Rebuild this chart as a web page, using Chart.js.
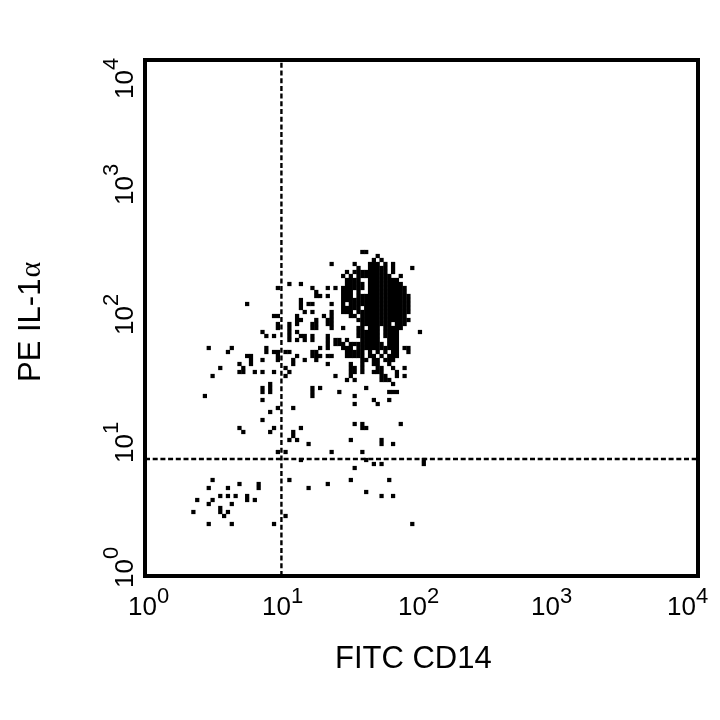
<!DOCTYPE html>
<html>
<head>
<meta charset="utf-8">
<title>FITC CD14 vs PE IL-1a</title>
<script src="https://cdn.jsdelivr.net/npm/chart.js@4"></script>
<style>
    html, body { margin: 0; padding: 0; background: #fff; }
    canvas { display: block; }
</style>
</head>
<body>
<canvas id="dotPlot" width="720" height="720"></canvas>
<script>
/* ========= DATA ========= */
var xTitle = 'FITC CD14';
var yTitle = 'PE IL-1';
var yTitleGreek = '\u03b1';
var tickBase = '10';
var tickExponents = ['0', '1', '2', '3', '4'];
var tickValues = [1, 10, 100, 1000, 10000];

// quadrant gates
var gateX = 9.7;
var gateY = 8.07;

// cytometer channels: one row per PE channel, list of FITC channels with an event
var peChannels = [13, 15, 16, 17, 18, 19, 20, 21, 22, 23, 24, 27, 28, 29, 31, 33, 34, 35, 36, 37, 38, 39, 41, 42, 43, 44, 45, 46, 47, 48, 49, 50, 51, 52, 53, 54, 55, 56, 57, 58, 59, 60, 61, 62, 63, 64, 65, 66, 67, 68, 69, 70, 71, 72, 73, 74, 75, 76, 77, 78, 79, 80, 81];
var fitcByRow = [
    [16, 22, 33, 69],
    [20, 36],
    [12, 19, 21],
    [19],
    [16, 22],
    [13, 17, 26, 28],
    [19, 21, 23, 26, 61, 64],
    [57],
    [16, 21, 29, 42],
    [24, 29, 47],
    [17, 37, 53, 63],
    [54],
    [59, 61, 72],
    [40, 57, 72],
    [34, 36, 48, 56],
    [42, 61, 64],
    [37, 39, 53, 61],
    [38],
    [25, 32, 38],
    [24, 33, 40, 56, 57],
    [54, 56, 66],
    [30],
    [32],
    [34, 38],
    [54, 60],
    [30, 59, 63],
    [15, 43, 54],
    [30, 32, 43, 50, 63, 64, 65],
    [30, 32, 43, 45, 57],
    [32, 64],
    [52, 54, 61, 62, 63],
    [17, 36, 49, 53, 61, 62, 65, 67],
    [24, 25, 28, 30, 33, 37, 53, 54, 56, 59, 60, 61, 65],
    [19, 25, 36, 53, 54, 56, 60, 61, 64, 67],
    [24, 27, 38, 47, 53, 56, 59, 60, 63],
    [27, 30, 34, 38, 41, 44, 56, 57, 59, 60, 62, 63, 64],
    [26, 27, 34, 39, 43, 44, 45, 47, 48, 52, 53, 54, 55, 56, 58, 59, 61, 63, 64, 65],
    [21, 31, 33, 34, 36, 37, 43, 44, 52, 53, 54, 55, 56, 58, 60, 62, 64, 65, 68],
    [16, 22, 31, 45, 47, 51, 52, 53, 55, 56, 57, 58, 59, 60, 61, 62, 63, 64, 65, 67, 68],
    [47, 49, 50, 51, 53, 54, 55, 56, 57, 58, 59, 60, 61, 63, 64, 65],
    [37, 39, 41, 43, 47, 49, 50, 52, 56, 57, 58, 59, 60, 63, 64, 65],
    [31, 33, 37, 40, 41, 43, 47, 55, 56, 57, 58, 59, 60, 62, 63, 64, 65],
    [30, 37, 39, 55, 56, 57, 58, 59, 60, 62, 63, 64, 65, 71],
    [34, 37, 43, 44, 48, 51, 55, 56, 58, 59, 60, 62, 63, 64, 65, 66],
    [34, 37, 39, 43, 44, 47, 48, 56, 57, 58, 59, 60, 61, 62, 63, 65, 66, 67],
    [39, 40, 44, 47, 48, 55, 56, 57, 58, 59, 60, 61, 62, 63, 64, 65, 66, 67, 68],
    [33, 34, 39, 46, 48, 53, 54, 56, 57, 58, 59, 60, 61, 62, 63, 64, 65, 66, 67],
    [41, 43, 48, 51, 52, 53, 55, 56, 57, 58, 59, 60, 61, 62, 63, 64, 65, 66, 67, 68],
    [40, 51, 52, 53, 54, 55, 57, 58, 59, 60, 61, 62, 63, 64, 65, 66, 67, 68],
    [26, 40, 42, 43, 48, 51, 53, 54, 55, 56, 57, 58, 59, 60, 61, 62, 63, 64, 65, 66, 67, 68],
    [40, 51, 52, 53, 54, 55, 56, 57, 58, 59, 60, 61, 62, 63, 64, 65, 66, 67, 68],
    [44, 45, 47, 51, 52, 53, 55, 56, 57, 58, 59, 60, 61, 62, 63, 64, 65, 66, 67, 68],
    [44, 51, 52, 53, 55, 58, 59, 60, 61, 62, 63, 64, 65, 66, 67],
    [34, 43, 47, 49, 51, 52, 53, 54, 55, 56, 58, 59, 60, 61, 62, 63, 64, 65, 66, 67],
    [37, 40, 52, 53, 54, 55, 56, 58, 59, 60, 61, 62, 63, 64, 65, 66],
    [52, 53, 54, 55, 58, 59, 60, 61, 62, 63, 64, 65],
    [51, 53, 55, 56, 57, 58, 59, 60, 61, 62, 63, 66],
    [52, 54, 55, 56, 57, 58, 59, 60, 61, 62, 64],
    [55, 58, 59, 60, 61, 62, 64, 69],
    [48, 54, 58, 59, 60, 62, 64],
    [59, 61],
    [60],
    [56, 57]
];

var fitcPerDecade = 36;
var pePerDecade = 32.25;

/* ========= DOTS ========= */
var dots = [];
peChannels.forEach(function (row, k) {
    fitcByRow[k].forEach(function (col) {
        dots.push({
            x: Math.pow(10, (col + 0.6) / fitcPerDecade),
            y: Math.pow(10, row / pePerDecade)
        });
    });
});

/* ========= TICK LABELS + FRAME ========= */
var xLabelLeft = [128, 262, 398, 531, 667];
var yLabelBottom = [588, 463, 335, 205, 99];
var labelFont = '26px "Liberation Sans"';
var expFont = '22px "Liberation Sans"';
var titleFont = '31px "Liberation Sans"';

function drawPower(ctx, exp, rise) {
    ctx.font = labelFont;
    ctx.fillText(tickBase, 0, 0);
    var w = ctx.measureText(tickBase).width;
    ctx.font = expFont;
    ctx.fillText(exp, w, -rise);
}

var framePlugin = {
    id: 'frame',
    afterDraw: function (chart) {
        var ctx = chart.ctx;
        var a = chart.chartArea;
        ctx.save();
        ctx.strokeStyle = '#000';
        ctx.lineWidth = 4;
        ctx.strokeRect(a.left, a.top, a.right - a.left, a.bottom - a.top);

        ctx.fillStyle = '#000';
        ctx.textAlign = 'left';
        ctx.textBaseline = 'alphabetic';
        tickExponents.forEach(function (exp, i) {
            ctx.save();
            ctx.translate(xLabelLeft[i], 615);
            drawPower(ctx, exp, 12);
            ctx.restore();

            ctx.save();
            ctx.translate(133, yLabelBottom[i]);
            ctx.rotate(-Math.PI / 2);
            drawPower(ctx, exp, 15);
            ctx.restore();
        });

        // axis titles
        ctx.font = titleFont;
        ctx.fillText(xTitle, 335, 668);

        ctx.save();
        ctx.translate(40, 382);
        ctx.rotate(-Math.PI / 2);
        ctx.fillText(yTitle, 0, 0);
        var w = ctx.measureText(yTitle).width;
        ctx.font = '30px "Liberation Serif"';
        ctx.fillText(yTitleGreek, w + 1, 0);
        ctx.restore();
        ctx.restore();
    }
};

/* ========= CHART ========= */
new Chart(document.getElementById('dotPlot'), {
    type: 'scatter',
    data: {
        datasets: [
            {
                data: dots,
                pointStyle: 'rect',
                pointRadius: 3,
                pointBorderWidth: 0,
                backgroundColor: '#000'
            },
            {
                type: 'line',
                data: [{ x: gateX, y: tickValues[0] }, { x: gateX, y: tickValues[4] }],
                borderColor: '#000',
                borderWidth: 2.4,
                borderDash: [5, 2.7],
                pointRadius: 0
            },
            {
                type: 'line',
                data: [{ x: tickValues[0], y: gateY }, { x: tickValues[4], y: gateY }],
                borderColor: '#000',
                borderWidth: 2.4,
                borderDash: [5, 2.7],
                pointRadius: 0
            }
        ]
    },
    options: {
        responsive: false,
        animation: false,
        devicePixelRatio: 1,
        layout: { padding: { top: 60, right: 22, bottom: 0, left: 0 } },
        plugins: { legend: { display: false }, tooltip: { enabled: false } },
        scales: {
            x: {
                type: 'logarithmic',
                min: 1,
                max: 10000,
                grid: { display: false },
                border: { display: false },
                ticks: { display: false },
                afterFit: function (scale) { scale.height = 144; }
            },
            y: {
                type: 'logarithmic',
                min: 1,
                max: 10000,
                grid: { display: false },
                border: { display: false },
                ticks: { display: false },
                afterFit: function (scale) { scale.width = 145; }
            }
        }
    },
    plugins: [framePlugin]
});
</script>
</body>
</html>
